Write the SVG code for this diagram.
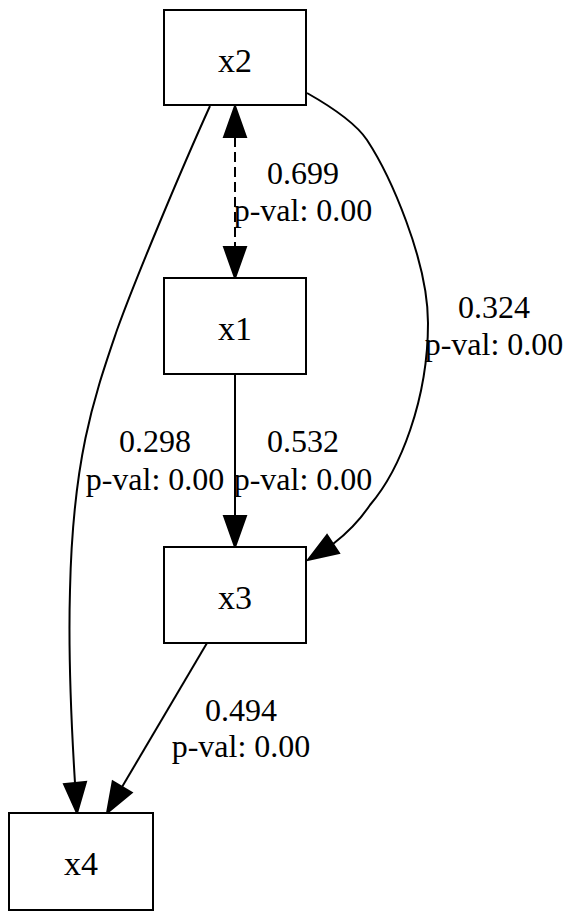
<svg xmlns="http://www.w3.org/2000/svg" width="573" height="918" viewBox="0 0 573 918">
<style>
.node rect{fill:#fff;stroke:#000;stroke-width:2}
.node text{font-family:"Liberation Serif","Times New Roman",serif;font-size:34px;text-anchor:middle;fill:#000}
.edge path,.edge line{fill:none;stroke:#000;stroke-width:2}
.edge polygon{fill:#000;stroke:#000;stroke-width:2}
.lbl{font-family:"Liberation Serif","Times New Roman",serif;font-size:32px;text-anchor:middle;fill:#000}
</style>
<rect width="573" height="918" fill="#fff"/>
<g id="edges">
<g class="edge" id="e_x2_x1">
<line x1="235" y1="137" x2="235" y2="247" stroke-dasharray="10,5"/>
<polygon points="224,137 235,106 246,137"/>
<polygon points="224,247 235,278 246,247"/>
<text class="lbl" x="303" y="184">0.699</text>
<text class="lbl" x="303" y="221">p-val: 0.00</text>
</g>
<g class="edge" id="e_x1_x3">
<line x1="235" y1="374" x2="235" y2="516"/>
<polygon points="224,516 235,547 246,516"/>
<text class="lbl" x="303" y="452">0.532</text>
<text class="lbl" x="303" y="490">p-val: 0.00</text>
</g>
<g class="edge" id="e_x2_x3">
<path d="M307,93 C330,106 355,122 367,140 C390,175 428,260 428,323 C428,400 400,470 370,505 C360,520 346,534 333,544"/>
<polygon points="327,535 308,560 339,553"/>
<text class="lbl" x="494" y="318">0.324</text>
<text class="lbl" x="494" y="355">p-val: 0.00</text>
</g>
<g class="edge" id="e_x2_x4">
<path d="M210,106 C181,170 135,280 117,330 C95,395 73,455 70,590 C68,660 72,735 75,783"/>
<polygon points="64,784 77,813 86,782"/>
<text class="lbl" x="155" y="452">0.298</text>
<text class="lbl" x="155" y="490">p-val: 0.00</text>
</g>
<g class="edge" id="e_x3_x4">
<line x1="207" y1="643" x2="122" y2="787"/>
<polygon points="112.7,781.4 107,813 131.7,792.7"/>
<text class="lbl" x="241" y="721">0.494</text>
<text class="lbl" x="241" y="757">p-val: 0.00</text>
</g>
</g>
<g class="node" id="x2"><rect x="164" y="10" width="142" height="95"/><text x="235" y="72">x2</text></g>
<g class="node" id="x1"><rect x="164" y="278" width="142" height="96"/><text x="235" y="340">x1</text></g>
<g class="node" id="x3"><rect x="164" y="547" width="142" height="96"/><text x="235" y="609">x3</text></g>
<g class="node" id="x4"><rect x="9" y="813" width="144" height="97"/><text x="81" y="875">x4</text></g>
</svg>
